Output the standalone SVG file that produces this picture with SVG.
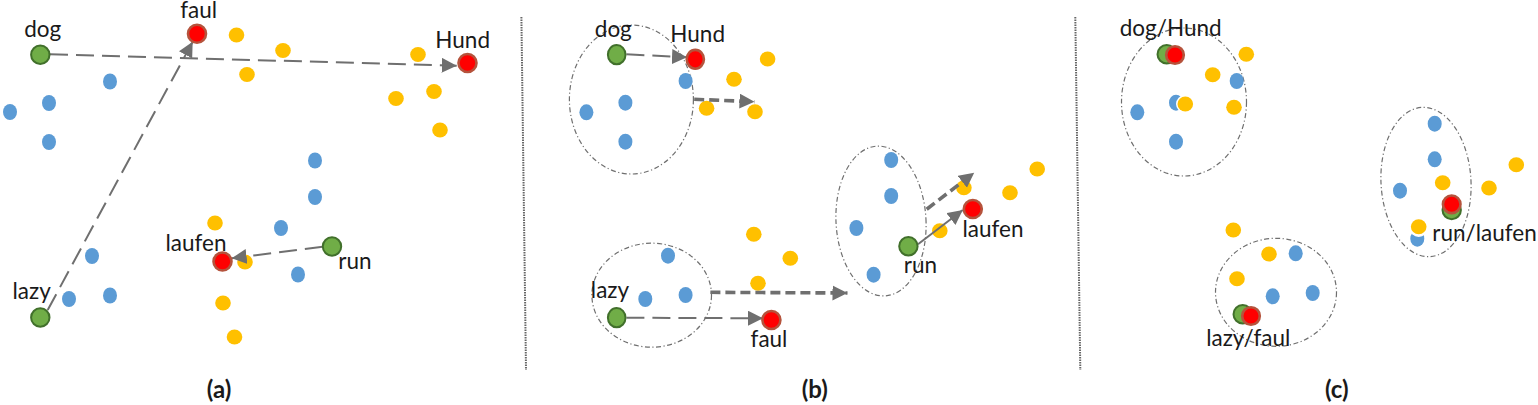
<svg xmlns="http://www.w3.org/2000/svg" width="1538" height="405" viewBox="0 0 1538 405">
<style>
text{font-family:Lato,"Liberation Sans",sans-serif;font-size:22.5px;fill:#1a1a1a;text-anchor:middle}
text.cap{font-weight:700;font-size:24px}
.b{fill:#5b9bd5}
.y{fill:#ffc000}
.g{fill:#70ad47;stroke:#41702b;stroke-width:2}
.r{fill:#ff0000;stroke:#b5533c;stroke-width:2.6}
.cl{fill:none;stroke:#6f6f6f;stroke-width:1.2;stroke-dasharray:5 2.5 1.2 2.5}
.sep{fill:none;stroke:#666;stroke-width:2;stroke-dasharray:1.5 1}
.t{fill:none;stroke:#6f6f6f;stroke-width:2;stroke-dasharray:18 8;marker-end:url(#ah)}
.k{fill:none;stroke:#6f6f6f;stroke-width:3.6;stroke-dasharray:10 5;marker-end:url(#ah)}
.s{fill:none;stroke:#6f6f6f;stroke-width:2;marker-end:url(#ah)}
</style>
<defs>
<marker id="ah" markerUnits="userSpaceOnUse" markerWidth="16" markerHeight="16" refX="15" refY="7.5" orient="auto"><path d="M0 0L15 7.5L0 15Z" fill="#6f6f6f"/></marker>
<ellipse id="bd" rx="7" ry="8" class="b"/>
<ellipse id="yd" rx="7.8" ry="7.5" class="y"/>
</defs>

<g id="separators">
<path class="sep" d="M521.4 17L526 370"/>
<path class="sep" d="M1075.3 17L1080.3 370"/>
</g>

<g id="clusters">
<ellipse id="cluster-b-dog" class="cl" cx="631.4" cy="99.5" rx="62" ry="74.5"/>
<ellipse id="cluster-b-lazy" class="cl" cx="651.7" cy="295.2" rx="59.8" ry="52"/>
<ellipse id="cluster-b-run" class="cl" cx="881" cy="221" rx="45" ry="75" transform="rotate(-3 881 221)"/>
<ellipse id="cluster-c-dog" class="cl" cx="1184" cy="102" rx="62.5" ry="74"/>
<ellipse id="cluster-c-lazy" class="cl" cx="1276" cy="292.3" rx="60.5" ry="54"/>
<ellipse id="cluster-c-run" class="cl" cx="1426" cy="182" rx="45" ry="74.7" transform="rotate(-3 1426 182)"/>
</g>

<g id="dots-a">
<use href="#bd" x="110" y="81.5"/><use href="#bd" x="49" y="103"/><use href="#bd" x="10" y="112"/><use href="#bd" x="49" y="142"/><use href="#bd" x="315" y="160.5"/><use href="#bd" x="315" y="197"/><use href="#bd" x="281" y="228"/><use href="#bd" x="92" y="256"/><use href="#bd" x="298" y="274.5"/><use href="#bd" x="69" y="299"/><use href="#bd" x="110" y="295.5"/>
<use href="#yd" x="236.5" y="35"/><use href="#yd" x="283" y="50.5"/><use href="#yd" x="247" y="74.5"/><use href="#yd" x="418" y="54.5"/><use href="#yd" x="434" y="91.5"/><use href="#yd" x="396" y="98.5"/><use href="#yd" x="440" y="130"/><use href="#yd" x="215" y="223"/><use href="#yd" x="245" y="262"/><use href="#yd" x="223" y="303"/><use href="#yd" x="234.5" y="337"/>
</g>
<g id="dots-b">
<use href="#bd" x="685.6" y="81"/><use href="#bd" x="625.4" y="102.7"/><use href="#bd" x="586.4" y="112.3"/><use href="#bd" x="625.4" y="141.7"/><use href="#bd" x="668" y="255.7"/><use href="#bd" x="645.3" y="299"/><use href="#bd" x="685.6" y="295"/><use href="#bd" x="891.2" y="160"/><use href="#bd" x="891.2" y="196"/><use href="#bd" x="856.4" y="228"/><use href="#bd" x="873.6" y="274.7"/>
<use href="#yd" x="767.6" y="59"/><use href="#yd" x="734" y="79.3"/><use href="#yd" x="706.6" y="108.3"/><use href="#yd" x="755" y="111.7"/><use href="#yd" x="753.8" y="234.3"/><use href="#yd" x="790.3" y="258.3"/><use href="#yd" x="758" y="283.3"/><use href="#yd" x="939.8" y="230.7"/><use href="#yd" x="963.9" y="187.7"/><use href="#yd" x="1010" y="192.7"/><use href="#yd" x="1037.2" y="169"/>
</g>
<g id="dots-c">
<use href="#bd" x="1236.7" y="81"/><use href="#bd" x="1137.3" y="112.3"/><use href="#bd" x="1176" y="141.7"/><use href="#bd" x="1176" y="102.7"/><use href="#bd" x="1434.7" y="123.7"/><use href="#bd" x="1434.7" y="159.3"/><use href="#bd" x="1400" y="190.7"/><use href="#bd" x="1417.3" y="238.7"/><use href="#bd" x="1295.7" y="253.3"/><use href="#bd" x="1272.7" y="296.3"/><use href="#bd" x="1312.7" y="293"/>
<ellipse cx="1185" cy="104" rx="9" ry="9" fill="#fff"/>
<ellipse cx="1418.7" cy="228" rx="9" ry="9" fill="#fff"/>
<use href="#yd" x="1246.3" y="54.3"/><use href="#yd" x="1212.7" y="74.7"/><use href="#yd" x="1234" y="107.3"/><use href="#yd" x="1185.3" y="104"/><use href="#yd" x="1442.7" y="182.7"/><use href="#yd" x="1489" y="188"/><use href="#yd" x="1516.3" y="164.7"/><use href="#yd" x="1418.7" y="226.7"/><use href="#yd" x="1233.3" y="230"/><use href="#yd" x="1269" y="254"/><use href="#yd" x="1237" y="278.7"/>
</g>

<g id="connectors">
<path class="t" d="M50 54.3L456.7 65.7"/>
<path class="t" d="M47.7 310L192.7 41.7"/>
<path class="t" d="M322.7 246.7L231.7 258.3"/>
<path class="t" d="M626.4 54.3L687 57.3"/>
<path class="t" d="M626.4 317.7L763 318.3"/>
<path class="s" d="M918 244.3L962.8 210"/>
<path class="k" d="M694.2 99.3L754.5 101.7"/>
<path class="k" d="M710.4 292.3L847.5 293"/>
<path class="k" d="M926.7 209.3L974.2 172.7"/>
</g>

<g id="a-dog"><circle class="g" cx="40.3" cy="54.7" r="9.2"/><text x="42.7" y="37.3">dog</text></g>
<g id="a-lazy"><circle class="g" cx="40.3" cy="317.5" r="9.2"/><text x="31.7" y="299">lazy</text></g>
<g id="a-run"><circle class="g" cx="332" cy="246.5" r="9.2"/><text x="355" y="269.3">run</text></g>
<g id="a-faul"><circle class="r" cx="197" cy="33.7" r="9"/><text x="198.7" y="17.5">faul</text></g>
<g id="a-hund"><circle class="r" cx="467.5" cy="63" r="9"/><text x="462.7" y="48.3">Hund</text></g>
<g id="a-laufen"><circle class="r" cx="222.5" cy="261.5" r="9"/><text x="196" y="250.7">laufen</text></g>

<g id="b-dog"><ellipse class="g" cx="616.7" cy="54.7" rx="8.8" ry="9.6"/><text x="613.3" y="36.7">dog</text></g>
<g id="b-lazy"><ellipse class="g" cx="616.7" cy="317.7" rx="8.8" ry="9.6"/><text x="610" y="297.7">lazy</text></g>
<g id="b-run"><circle class="g" cx="908.4" cy="246.3" r="9.2"/><text x="920.5" y="273.3">run</text></g>
<g id="b-hund"><ellipse class="r" cx="695.3" cy="59.3" rx="8.6" ry="9.4"/><text x="697.7" y="42.3">Hund</text></g>
<g id="b-faul"><circle class="r" cx="771.4" cy="320" r="9"/><text x="769" y="346.7">faul</text></g>
<g id="b-laufen"><circle class="r" cx="972.8" cy="209" r="9"/><text x="993" y="237.3">laufen</text></g>

<g id="c-dog-hund"><circle class="g" cx="1166.7" cy="54.3" r="9.2"/><circle class="r" cx="1175" cy="55" r="8.8"/><text x="1170.7" y="36">dog/Hund</text></g>
<g id="c-lazy-faul"><circle class="g" cx="1242.7" cy="314.3" r="9.2"/><circle class="r" cx="1251" cy="316" r="8.8"/><text x="1248.3" y="345.7">lazy/faul</text></g>
<g id="c-run-laufen"><circle class="g" cx="1451.7" cy="210" r="9.2"/><circle class="r" cx="1451.7" cy="204.3" r="8.8"/><text x="1484.5" y="240.7">run/laufen</text></g>

<g id="captions">
<text class="cap" x="219" y="398">(a)</text>
<text class="cap" x="814.8" y="398">(b)</text>
<text class="cap" x="1336.7" y="398">(c)</text>
</g>
</svg>
